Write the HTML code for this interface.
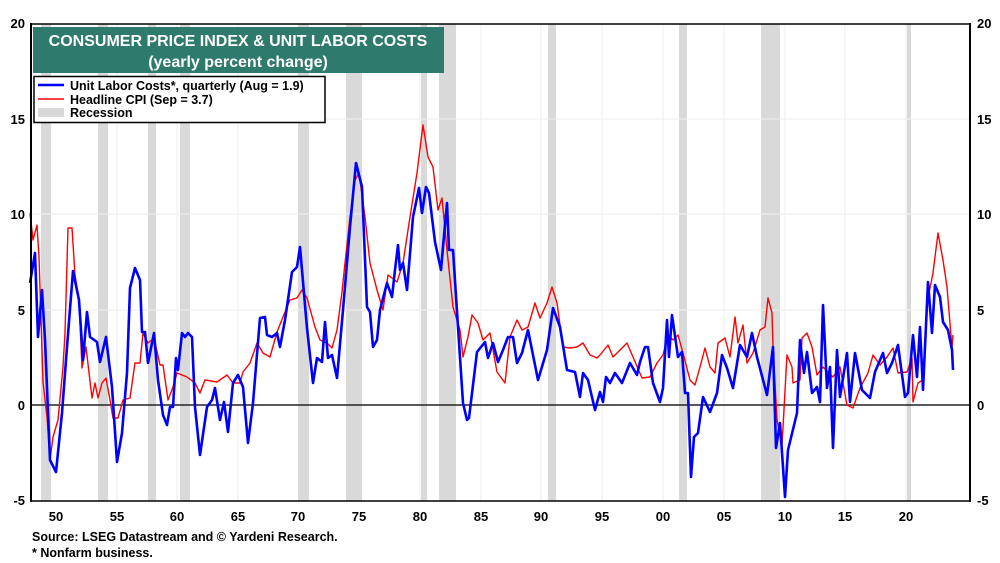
<!DOCTYPE html>
<html><head><meta charset="utf-8"><style>
body{margin:0;background:#fff;}
svg{display:block;font-family:"Liberation Sans",Arial,sans-serif;font-weight:bold;}
</style></head><body>
<svg width="1000" height="563" viewBox="0 0 1000 563">
<rect width="1000" height="563" fill="#fff"/>
<g fill="#d9d9d9">
<rect x="41" y="24" width="10" height="477"/><rect x="98" y="24" width="10" height="477"/>
<rect x="148" y="24" width="8" height="477"/><rect x="180" y="24" width="10" height="477"/>
<rect x="298" y="24" width="11" height="477"/><rect x="346" y="24" width="16" height="477"/>
<rect x="421" y="24" width="6" height="477"/><rect x="439" y="24" width="17" height="477"/>
<rect x="548" y="24" width="8" height="477"/><rect x="679" y="24" width="8" height="477"/>
<rect x="761" y="24" width="19" height="477"/><rect x="907" y="24" width="4" height="477"/>
</g>
<g stroke="#eee" stroke-width="1">
<line x1="31" y1="119" x2="970" y2="119"/><line x1="31" y1="214" x2="970" y2="214"/><line x1="31" y1="310" x2="970" y2="310"/>
<line x1="117" y1="24" x2="117" y2="501"/><line x1="177" y1="24" x2="177" y2="501"/><line x1="238" y1="24" x2="238" y2="501"/>
<line x1="420" y1="24" x2="420" y2="501"/><line x1="481" y1="24" x2="481" y2="501"/><line x1="541" y1="24" x2="541" y2="501"/>
<line x1="602" y1="24" x2="602" y2="501"/><line x1="663" y1="24" x2="663" y2="501"/><line x1="724" y1="24" x2="724" y2="501"/>
<line x1="785" y1="24" x2="785" y2="501"/><line x1="845" y1="24" x2="845" y2="501"/><line x1="906" y1="24" x2="906" y2="501"/>
</g>
<line x1="31" y1="405" x2="970" y2="405" stroke="#222" stroke-width="1.5"/>
<polyline fill="none" stroke="#ff0000" stroke-width="1.4" stroke-linejoin="round" points="30,213 33,240 37,225 39,257 43,382 47,417 50,460 53,437 58,420 63,367 65,333 68,228 72,228 75,275 79,300 82,368 86,347 92,398 95,383 98,398 102,383 106,378 110,400 113,418 118,418 123,400 130,398 135,363 140,363 143,333 148,343 154,338 160,365 163,365 168,400 173,387 177,373 187,377 195,383 200,393 205,380 217,382 227,375 233,383 240,383 243,372 250,363 257,343 263,353 270,357 277,332 283,317 290,300 297,298 302,290 307,298 315,327 320,340 327,343 332,348 337,330 342,292 345,263 350,217 355,180 359,173 365,217 370,263 377,290 383,310 388,275 397,282 403,263 410,217 417,173 423,125 428,157 433,167 438,210 442,198 447,250 453,307 460,330 463,357 468,337 472,315 478,323 483,340 490,333 497,372 505,383 510,337 517,320 522,330 528,327 535,303 540,318 547,303 552,287 557,303 563,347 570,348 577,347 583,343 590,355 597,358 600,355 608,345 613,357 627,343 633,357 642,378 650,377 657,363 663,355 668,335 673,340 678,335 683,353 690,380 695,385 700,367 705,348 710,367 715,373 718,343 725,338 730,357 735,317 738,343 743,325 747,363 753,353 760,330 765,327 768,298 772,313 773,347 777,420 782,445 787,355 792,367 793,383 800,380 802,338 807,333 812,347 817,375 823,367 833,377 840,367 847,405 853,408 860,388 868,373 873,355 880,365 887,357 893,348 898,373 907,372 912,358 913,402 918,383 923,380 927,303 933,273 938,233 943,260 947,287 952,348 953,335"/>
<polyline fill="none" stroke="#0000ff" stroke-width="2.6" stroke-linejoin="round" points="30,283 35,253 38,337 42,290 45,340 50,460 56,472 62,413 67,347 73,271 79,300 83,360 87,312 90,337 97,342 100,362 106,337 112,387 117,462 122,433 127,373 130,288 135,268 140,280 142,332 145,332 148,363 154,333 158,380 163,415 167,425 170,407 173,407 176,358 178,370 182,333 185,337 188,333 192,337 195,407 200,455 207,407 212,400 215,388 220,420 224,402 228,432 233,383 238,375 243,387 248,443 253,403 260,318 265,317 267,335 272,337 277,333 280,347 285,320 292,272 297,267 300,247 307,328 313,383 317,358 322,362 325,322 328,358 332,355 337,378 343,310 350,227 356,163 362,187 367,307 370,312 373,347 377,340 380,310 387,283 392,297 395,270 398,245 400,270 403,263 407,290 413,217 419,188 422,213 426,187 429,193 435,242 441,270 443,247 447,203 449,250 453,250 458,327 463,403 467,420 469,418 477,352 485,342 488,358 493,343 498,362 503,350 508,337 513,337 517,363 522,353 528,330 538,380 547,350 553,308 560,327 567,370 575,372 580,397 583,373 588,380 595,410 600,392 603,402 606,377 610,383 615,373 622,383 630,363 637,375 640,362 645,347 648,347 653,383 660,402 663,388 667,320 669,357 672,315 678,357 682,352 685,393 688,393 691,477 694,437 698,433 703,397 710,412 717,393 722,355 727,368 733,388 740,345 747,357 752,333 757,357 767,395 773,347 776,448 780,423 785,497 788,450 797,413 800,340 804,373 807,352 812,393 817,387 820,402 823,305 827,388 830,367 833,448 837,350 840,397 847,353 850,402 855,353 862,390 870,398 875,372 883,353 887,373 892,363 898,345 905,397 908,393 913,335 917,377 920,327 923,390 928,282 932,333 935,285 940,297 943,322 948,330 952,350 953,370"/>
<g stroke="#000" fill="none">
<line x1="31" y1="23" x2="31" y2="502" stroke-width="2"/>
<line x1="970" y1="23" x2="970" y2="502" stroke-width="2"/>
<line x1="30" y1="24" x2="971" y2="24" stroke-width="1.5"/>
<line x1="30" y1="501" x2="971" y2="501" stroke-width="1.5"/>
</g>
<g font-size="13" fill="#000" text-anchor="end">
<text x="25" y="28">20</text><text x="25" y="124">15</text><text x="25" y="219">10</text><text x="25" y="315">5</text><text x="25" y="410">0</text><text x="25" y="505">-5</text>
</g>
<g font-size="13" fill="#000" text-anchor="start">
<text x="977" y="28">20</text><text x="977" y="124">15</text><text x="977" y="219">10</text><text x="977" y="315">5</text><text x="977" y="410">0</text><text x="977" y="505">-5</text>
</g>
<g font-size="13" fill="#000" text-anchor="middle">
<text x="56" y="521">50</text><text x="117" y="521">55</text><text x="177" y="521">60</text><text x="238" y="521">65</text><text x="298" y="521">70</text><text x="359" y="521">75</text><text x="420" y="521">80</text><text x="481" y="521">85</text><text x="541" y="521">90</text><text x="602" y="521">95</text><text x="663" y="521">00</text><text x="724" y="521">05</text><text x="785" y="521">10</text><text x="845" y="521">15</text><text x="906" y="521">20</text>
</g>
<text x="32" y="541" font-size="12.5">Source: LSEG Datastream and © Yardeni Research.</text>
<text x="32" y="557" font-size="12.5">* Nonfarm business.</text>
<rect x="33" y="27" width="411" height="46" fill="#2e7b6e"/>
<text x="238" y="46" font-size="16" fill="#fff" text-anchor="middle">CONSUMER PRICE INDEX &amp; UNIT LABOR COSTS</text>
<text x="238" y="67" font-size="16" fill="#fff" text-anchor="middle">(yearly percent change)</text>
<rect x="34" y="76.5" width="291" height="46" fill="#fff" stroke="#000" stroke-width="1.5"/>
<line x1="38" y1="85" x2="64" y2="85" stroke="#0000ff" stroke-width="2.5"/>
<line x1="38" y1="99" x2="64" y2="99" stroke="#ff0000" stroke-width="1.5"/>
<rect x="38" y="108" width="26" height="9" fill="#d9d9d9"/>
<g font-size="12.5"><text x="70" y="90">Unit Labor Costs*, quarterly (Aug = 1.9)</text>
<text x="70" y="104">Headline CPI (Sep = 3.7)</text>
<text x="70" y="117">Recession</text></g>
</svg>
</body></html>
